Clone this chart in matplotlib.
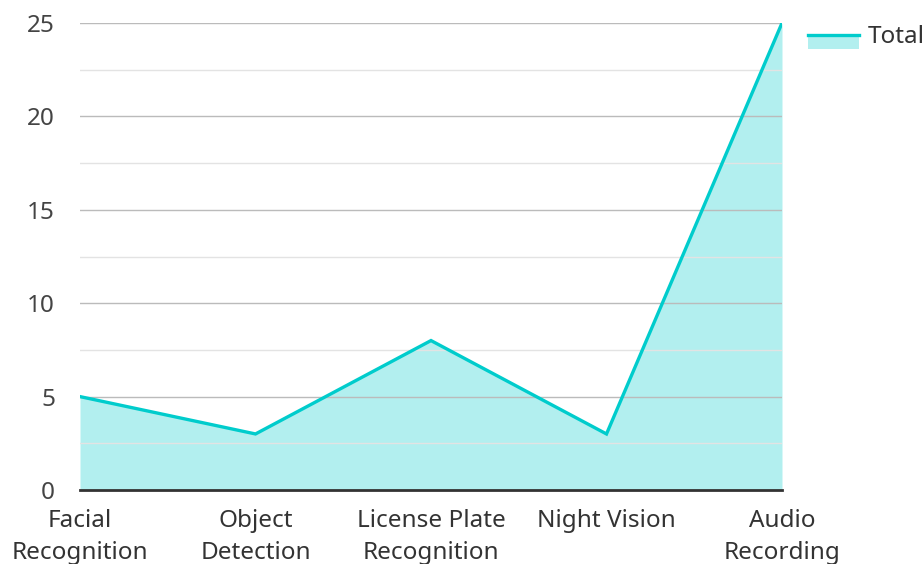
import matplotlib
matplotlib.use("Agg")
import matplotlib.pyplot as plt
from matplotlib.patches import Rectangle
from matplotlib.lines import Line2D
from matplotlib.legend_handler import HandlerBase
from matplotlib.ticker import MultipleLocator

categories = ["Facial\nRecognition", "Object\nDetection", "License Plate\nRecognition", "Night Vision", "Audio\nRecording"]
values = [5, 3, 8, 3, 25]
series_name = "Total"

plt.rcParams['font.family'] = ['Noto Sans', 'DejaVu Sans']

line_color = "#00CCCC"
FS = 17.5


class AreaHandler(HandlerBase):
    def create_artists(self, legend, orig_handle, xdescent, ydescent, width, height, fontsize, trans):
        yc = height / 2 - ydescent
        rect = Rectangle((-xdescent, yc - height * 0.8), width, height * 0.8,
                         facecolor=line_color, alpha=0.3, edgecolor='none', transform=trans)
        ln = Line2D([-xdescent, -xdescent + width], [yc, yc], color=line_color, linewidth=2.4, transform=trans)
        return [rect, ln]


fig = plt.figure(figsize=(9.23, 5.64), dpi=100)
ax = fig.add_axes([80/923, 74/564, 702/923, 467/564])

x = list(range(len(categories)))
ax.fill_between(x, values, 0, color=line_color, alpha=0.3, linewidth=0, zorder=1)
area_line, = ax.plot(x, values, color=line_color, linewidth=2.4, zorder=3, solid_joinstyle='miter')

ax.set_xlim(0, len(categories) - 1)
ax.set_ylim(0, 25)
ax.yaxis.set_major_locator(MultipleLocator(5))
ax.yaxis.set_minor_locator(MultipleLocator(2.5))
ax.set_axisbelow(False)
ax.grid(axis='y', which='major', color='#bbbbbb', linewidth=1, zorder=2)
ax.grid(axis='y', which='minor', color='#e3e3e3', linewidth=1, zorder=2)
ax.set_xticks(x)
ax.set_xticklabels(categories, fontsize=FS, color='#333333', linespacing=1.4)
ax.tick_params(axis='y', which='both', length=0, labelsize=FS, labelcolor='#444444', pad=18)
ax.tick_params(axis='x', length=0, pad=14)
for s in ['top', 'right', 'left']:
    ax.spines[s].set_visible(False)
ax.spines['bottom'].set_color('#333333')
ax.spines['bottom'].set_linewidth(2)
ax.spines['bottom'].set_zorder(4)

leg = fig.legend([area_line], [series_name], handler_map={area_line: AreaHandler()},
                 loc='upper left', bbox_to_anchor=(808/923, 1 - 25/564),
                 frameon=False, fontsize=FS, handlelength=2.1, handleheight=0.8, handletextpad=0.35,
                 labelcolor='#333333', borderaxespad=0, borderpad=0)
fig.savefig("out.png", dpi=100)
